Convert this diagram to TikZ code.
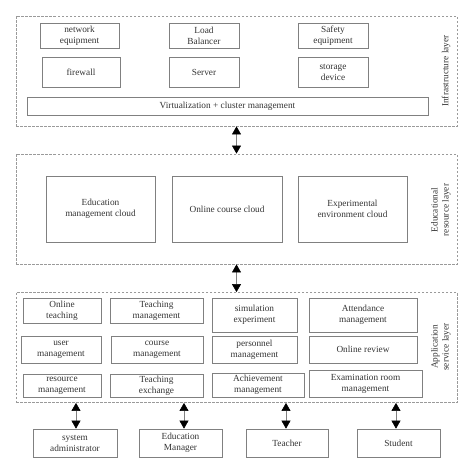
\documentclass[tikz,border=0pt]{standalone}
\usepackage{fontspec}
\setmainfont{Liberation Serif}
\usetikzlibrary{arrows.meta}
\definecolor{boxgray}{HTML}{808080}
\definecolor{dashgray}{HTML}{9A9A9A}
\definecolor{textgray}{HTML}{333333}
\begin{document}
\begin{tikzpicture}[
        x                       = 1pt,
        y                       = -1pt,
        font                    = \fontsize{9.3}{11}\selectfont,
        text                    = textgray,
        box/.style              = {draw=boxgray, line width=0.7pt, align=center, inner sep=0pt},
        layer/.style            = {draw=dashgray, line width=0.8pt, dash pattern=on 2.5pt off 1.5pt,
                                   minimum width=441, minimum height=110, inner sep=0pt},
        layername/.style        = {rotate=90, align=center},
        link/.style             = {draw=boxgray, line width=0.6pt,
                                   {Triangle[width=9pt,length=8pt,black]}-{Triangle[width=9pt,length=8pt,black]}},
      ]
        \useasboundingbox (0,0) rectangle (474,474);
        % infrastructure layer
        \node[layer] (infra) at (236.5,71) {};
        \node[box, minimum width=79, minimum height=25] (neteq) at (79.5,35.5) {network\\equipment};
        \node[box, minimum width=70, minimum height=25] (lb) at (204,35.5) {Load\\Balancer};
        \node[box, minimum width=70, minimum height=25] (safety) at (333,35.5) {Safety\\equipment};
        \node[box, minimum width=78, minimum height=30] (firewall) at (81,72) {firewall};
        \node[box, minimum width=70, minimum height=30] (server) at (204,72) {Server};
        \node[box, minimum width=70, minimum height=30] (storage) at (333,72) {storage\\device};
        \node[box, minimum width=401, minimum height=18] (virt) at (227.5,106) {Virtualization + cluster management};
        \node[layername] (infralabel) at (446,71) {Infrastructure layer};
        % educational resource layer
        \node[layer] (edu) at (236.5,209) {};
        \node[box, minimum width=109, minimum height=66] (emc) at (100.5,209) {Education\\management cloud};
        \node[box, minimum width=110, minimum height=66] (occ) at (227,209) {Online course cloud};
        \node[box, minimum width=109, minimum height=66] (eec) at (352.5,209) {Experimental\\environment cloud};
        \node[layername] (edulabel) at (441,210) {Educational\\resource layer};
        % application service layer
        \node[layer] (app) at (236.5,347.5) {};
        \node[box, minimum width=78, minimum height=25] (ot) at (62,310.5) {Online\\teaching};
        \node[box, minimum width=93, minimum height=25] (tm) at (156.5,310.5) {Teaching\\management};
        \node[box, minimum width=85, minimum height=34] (sim) at (254.5,315) {simulation\\experiment};
        \node[box, minimum width=108, minimum height=34] (att) at (363,315) {Attendance\\management};
        \node[box, minimum width=80, minimum height=27] (um) at (61,349.5) {user\\management};
        \node[box, minimum width=92, minimum height=27] (cm) at (157,349.5) {course\\management};
        \node[box, minimum width=85, minimum height=27] (pm) at (254.5,349.5) {personnel\\management};
        \node[box, minimum width=108, minimum height=27] (orv) at (363,349.5) {Online review};
        \node[box, minimum width=78, minimum height=23] (rm) at (62,385.5) {resource\\management};
        \node[box, minimum width=93, minimum height=23] (te) at (156.5,385.5) {Teaching\\exchange};
        \node[box, minimum width=92, minimum height=24] (am) at (258,385) {Achievement\\management};
        \node[box, minimum width=113, minimum height=27] (erm) at (365.5,383.5) {Examination room\\management};
        \node[layername] (applabel) at (441,347) {Application\\service layer};
        % users
        \node[box, minimum width=84, minimum height=28] (sa) at (75,443) {system\\administrator};
        \node[box, minimum width=83, minimum height=28] (em) at (180.5,443) {Education\\Manager};
        \node[box, minimum width=82, minimum height=28] (teacher) at (287,443) {Teacher};
        \node[box, minimum width=83, minimum height=28] (student) at (398.5,443) {Student};
        % links
        \draw[link] (infra.south) -- (edu.north);
        \draw[link] (edu.south) -- (app.north);
        \draw[link] ([xshift=1pt]sa.north) -- ([xshift=1pt]sa.north |- app.south);
        \draw[link] ([xshift=3.5pt]em.north) -- ([xshift=3.5pt]em.north |- app.south);
        \draw[link] ([xshift=-1pt]teacher.north) -- ([xshift=-1pt]teacher.north |- app.south);
        \draw[link] ([xshift=-2.5pt]student.north) -- ([xshift=-2.5pt]student.north |- app.south);
    \end{tikzpicture}
\end{document}
